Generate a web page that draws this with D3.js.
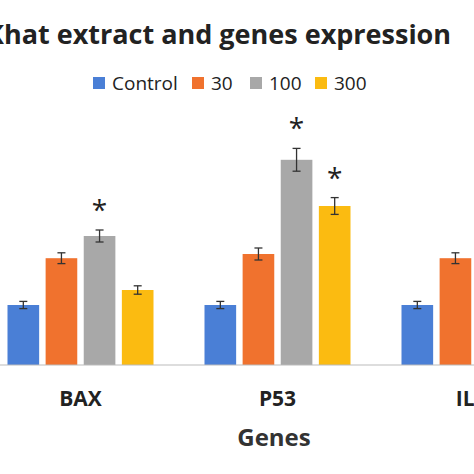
<!DOCTYPE html>
<html><head><meta charset="utf-8">
<script src="https://cdn.jsdelivr.net/npm/d3@7"></script>
<style>body{margin:0;background:#fff}text{font-family:"Open Sans",Arial,sans-serif}</style>
</head><body><svg id="chart" width="474" height="474"></svg>
<script>
// chart data
var genes = ["BAX", "P53", "IL-6"];
var series = ["Control", "30", "100", "300"];
var colors = ["#4a7fd6", "#f0722e", "#a8a8a8", "#fbbb11"];
var values = [
	[1.0, 1.78, 2.15, 1.25],
	[1.0, 1.85, 3.42, 2.65],
	[1.0, 1.78, 2.2, 1.3]
];
var errors = [
	[0.06, 0.09, 0.1, 0.07],
	[0.06, 0.1, 0.19, 0.14],
	[0.06, 0.09, 0.1, 0.07]
];
var stars = [[2], [2, 3], []];

var svg = d3.select("#chart");
var base = 365;

var x = d3.scaleBand().domain(genes).range([-18, 573]);
var xs = d3.scaleBand().domain(series).range([0, 146]).paddingInner(0.17);
var y = d3.scaleLinear().domain([0, 1]).range([base, base - 60]);

// title
svg.append("text").attr("x", -14).attr("y", 44)
	.attr("font-size", 27).attr("font-weight", "bold").attr("fill", "#222")
	.text("Khat extract and genes expression");

// legend
var lx = [93, 192, 250, 315];
series.forEach(function(s, i) {
	svg.append("rect").attr("x", lx[i]).attr("y", 77).attr("width", 12).attr("height", 12).attr("fill", colors[i]);
	svg.append("text").attr("x", lx[i] + 19).attr("y", 90).attr("font-size", 19).attr("fill", "#222").text(s);
});

// bars
genes.forEach(function(g, gi) {
	var x0 = x(g) + x.bandwidth() / 2 - 73;
	series.forEach(function(s, si) {
		var v = values[gi][si], e = errors[gi][si];
		var bx = x0 + xs(s), cx = bx + xs.bandwidth() / 2;
		svg.append("rect").attr("x", bx).attr("y", y(v))
			.attr("width", xs.bandwidth()).attr("height", base - y(v)).attr("fill", colors[si]);
		var eg = svg.append("g").attr("stroke", "#333").attr("stroke-width", 1.3);
		eg.append("line").attr("x1", cx).attr("x2", cx).attr("y1", y(v + e)).attr("y2", y(v - e));
		eg.append("line").attr("x1", cx - 4).attr("x2", cx + 4).attr("y1", y(v + e)).attr("y2", y(v + e));
		eg.append("line").attr("x1", cx - 4).attr("x2", cx + 4).attr("y1", y(v - e)).attr("y2", y(v - e));
		if (stars[gi].indexOf(si) >= 0) {
			svg.append("text").attr("x", cx).attr("y", y(v + e) - 10)
				.attr("text-anchor", "middle").attr("font-size", 28).attr("fill", "#222").text("*");
		}
	});
});

// axis
svg.append("line").attr("x1", 0).attr("x2", 474).attr("y1", base).attr("y2", base)
	.attr("stroke", "#bbb").attr("stroke-width", 1);
genes.forEach(function(g) {
	svg.append("text").attr("x", x(g) + x.bandwidth() / 2).attr("y", 406)
		.attr("text-anchor", "middle").attr("font-size", 21).attr("font-weight", "bold").attr("fill", "#222").text(g);
});
svg.append("text").attr("x", 274).attr("y", 446).attr("text-anchor", "middle")
	.attr("font-size", 24).attr("font-weight", "bold").attr("fill", "#333").text("Genes");
</script></body></html>
